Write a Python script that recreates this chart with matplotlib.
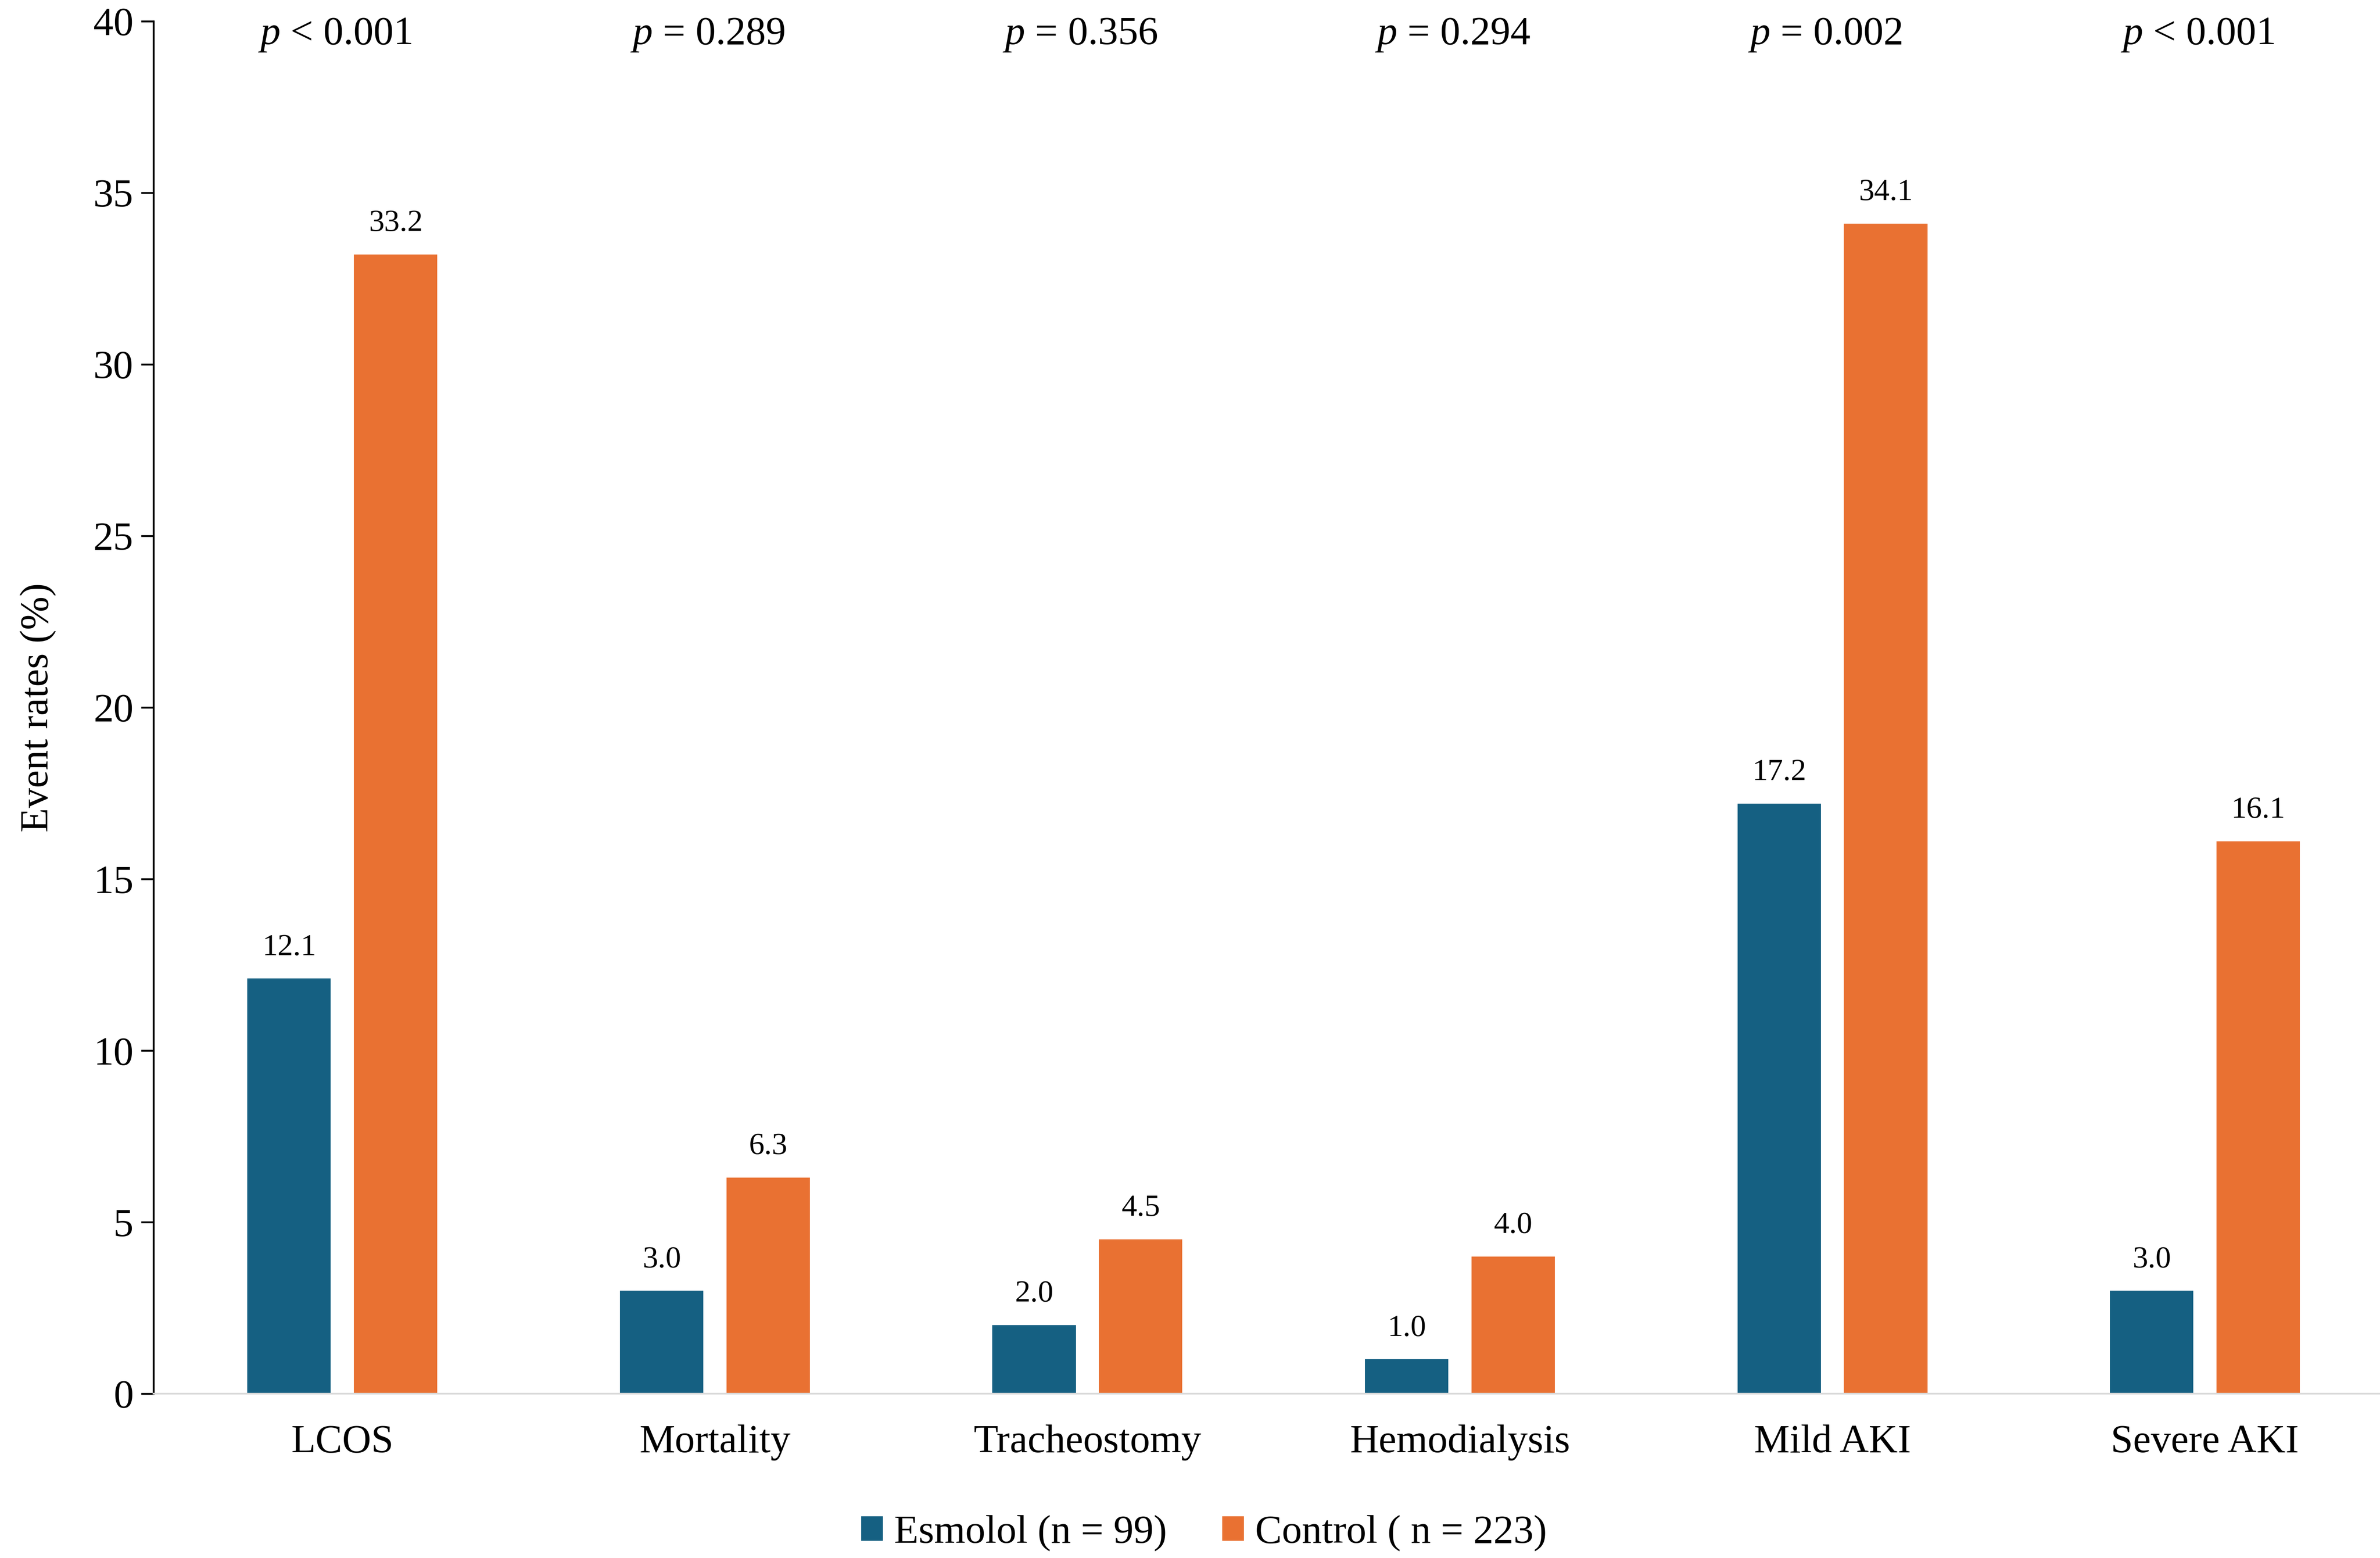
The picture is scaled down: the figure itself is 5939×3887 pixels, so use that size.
import matplotlib
matplotlib.use("Agg")
import matplotlib.pyplot as plt
from matplotlib.patches import Patch
import numpy as np

categories = ["LCOS", "Mortality", "Tracheostomy", "Hemodialysis", "Mild AKI", "Severe AKI"]
esmolol = [12.1, 3.0, 2.0, 1.0, 17.2, 3.0]
control = [33.2, 6.3, 4.5, 4.0, 34.1, 16.1]
p_values = ["< 0.001", "= 0.289", "= 0.356", "= 0.294", "= 0.002", "< 0.001"]
series_names = ["Esmolol (n = 99)", "Control ( n = 223)"]
yticks = [0, 5, 10, 15, 20, 25, 30, 35, 40]

plt.rcParams["font.family"] = ["Liberation Serif", "DejaVu Serif"]
plt.rcParams["mathtext.fontset"] = "custom"
plt.rcParams["mathtext.rm"] = "Liberation Serif"
plt.rcParams["mathtext.it"] = "Liberation Serif:italic"

c_esm = "#156082"
c_ctl = "#E97132"

W, H = 5939, 3887
fig = plt.figure(figsize=(W / 300, H / 300), dpi=300)
ax = fig.add_axes([383 / W, 1 - 3477 / H, 1 - 383 / W, (3477 - 53) / H])

x = np.arange(len(categories))
bw = 0.224
off = 0.143
b1 = ax.bar(x - off, esmolol, bw, color=c_esm, zorder=2)
b2 = ax.bar(x + off, control, bw, color=c_ctl, zorder=2)

for bars, vals in ((b1, esmolol), (b2, control)):
    for rect, v in zip(bars, vals):
        ax.annotate(f"{v:.1f}", (rect.get_x() + rect.get_width() / 2, v),
                    xytext=(0, 18.5), textcoords="offset points",
                    ha="center", va="center", fontsize=18.5)

for xi, p in zip(x, p_values):
    ax.text(xi - 0.02, 39.6, r"$\it{p}$" + " " + p, ha="center", va="center", fontsize=24)

ax.set_xlim(-0.507, 5.470)
ax.set_ylim(0, 40)
ax.set_yticks(yticks)
ax.set_xticks(x)
ax.set_xticklabels(categories)
ax.tick_params(axis="y", direction="out", length=7.4, width=1.1, labelsize=24, pad=4.6)
ax.tick_params(axis="x", length=0, labelsize=24, pad=18.5)

for s in ("top", "right"):
    ax.spines[s].set_visible(False)
ax.spines["left"].set_linewidth(1.1)
ax.spines["bottom"].set_color("#d9d9d9")
ax.spines["bottom"].set_linewidth(1.0)

fig.text(95 / W, 1 - 1765 / H, "Event rates (%)", rotation=90,
         ha="center", va="center", fontsize=24)

handles = [Patch(color=c_esm), Patch(color=c_ctl)]
fig.legend(handles, series_names, loc="center", bbox_to_anchor=(0.506, 0.016),
           ncol=2, frameon=False, fontsize=24, handlelength=0.5, handleheight=0.5,
           handletextpad=0.3, columnspacing=1.4)

fig.savefig("out.png", dpi=300)
